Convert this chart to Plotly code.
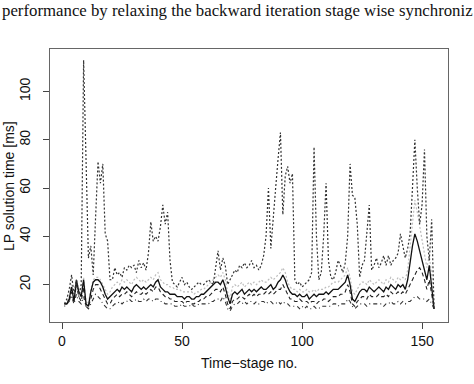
import plotly.graph_objects as go

stage = list(range(1, 156))

top_dotted = [12, 14, 18, 24, 16, 22, 15, 20, 113, 72,
              31, 36, 24, 48, 71, 62, 70, 41, 38, 22,
              22, 27, 24, 25, 23, 27, 26, 28, 27, 28,
              25, 30, 27, 29, 26, 33, 46, 38, 40, 38,
              44, 53, 45, 50, 30, 21, 20, 19, 21, 23,
              20, 21, 19, 18, 19, 20, 21, 20, 20, 21,
              22, 21, 20, 27, 34, 26, 31, 28, 20, 22,
              24, 26, 25, 28, 27, 29, 27, 28, 30, 27,
              28, 26, 28, 32, 40, 60, 35, 49, 60, 72,
              83, 49, 65, 69, 62, 66, 22, 20, 21, 19,
              20, 21, 22, 25, 77, 40, 22, 25, 40, 62,
              30, 23, 22, 25, 30, 28, 25, 29, 40, 70,
              57, 56, 45, 23, 28, 30, 40, 53, 26, 28,
              31, 27, 29, 32, 28, 32, 28, 30, 31, 33,
              41, 36, 31, 35, 41, 60, 80, 60, 45, 53,
              76, 40, 30, 47, 10]

grey_dotted = [12, 13, 15, 20, 14, 22, 18, 16, 23, 13,
               12, 18, 22, 23, 23, 22, 20, 18, 16, 17,
               19, 20, 21, 20, 22, 21, 22, 21, 20, 22,
               23, 22, 21, 22, 21, 22, 23, 22, 24, 25,
               22, 21, 20, 20, 19, 19, 18, 18, 18, 17,
               17, 17, 17, 17, 16, 17, 17, 18, 18, 19,
               20, 21, 22, 23, 24, 23, 25, 22, 17, 14,
               19, 20, 19, 20, 21, 19, 20, 21, 20, 21,
               20, 21, 22, 21, 21, 22, 23, 22, 23, 24,
               25, 27, 25, 21, 19, 18, 18, 17, 18, 17,
               17, 18, 17, 17, 18, 17, 18, 18, 18, 19,
               19, 20, 21, 21, 21, 22, 23, 24, 27, 23,
               17, 16, 18, 20, 21, 21, 20, 22, 21, 20,
               21, 22, 21, 20, 22, 21, 23, 22, 21, 23,
               22, 23, 22, 26, 36, 46, 55, 50, 44, 38,
               33, 27, 32, 24, 11]

solid = [12, 12, 14, 19, 13, 22, 17, 15, 22, 12,
         11, 17, 21, 22, 22, 21, 19, 16, 14, 15,
         16, 17, 18, 17, 19, 18, 19, 18, 17, 19,
         20, 19, 18, 19, 18, 19, 20, 19, 21, 22,
         19, 18, 17, 17, 16, 16, 16, 15, 15, 15,
         14, 15, 15, 14, 14, 15, 15, 16, 16, 17,
         18, 19, 20, 21, 21, 20, 22, 19, 15, 12,
         16, 17, 16, 17, 18, 16, 17, 18, 17, 18,
         17, 18, 19, 18, 18, 19, 20, 18, 19, 21,
         22, 24, 22, 19, 17, 16, 16, 15, 16, 15,
         15, 16, 14, 15, 16, 15, 16, 16, 16, 17,
         16, 17, 18, 18, 18, 19, 20, 21, 24, 20,
         14, 13, 15, 17, 18, 18, 17, 19, 18, 17,
         18, 19, 18, 17, 19, 18, 20, 19, 18, 20,
         19, 20, 18, 22, 30, 36, 41, 38, 34, 30,
         26, 22, 28, 20, 10]

dashed = [12, 12, 13, 17, 13, 20, 15, 13, 19, 11,
          11, 14, 18, 20, 20, 18, 16, 14, 12, 12,
          14, 15, 16, 15, 16, 16, 17, 16, 15, 16,
          17, 16, 16, 17, 16, 17, 18, 17, 19, 19,
          17, 16, 15, 15, 14, 14, 13, 13, 13, 13,
          12, 13, 13, 12, 12, 13, 13, 14, 14, 15,
          15, 16, 17, 18, 18, 17, 19, 16, 12, 10,
          13, 14, 14, 15, 15, 14, 15, 16, 15, 16,
          15, 16, 16, 16, 17, 16, 17, 16, 17, 18,
          18, 20, 18, 16, 14, 14, 13, 13, 14, 13,
          13, 13, 12, 13, 13, 12, 13, 13, 14, 14,
          13, 14, 15, 15, 15, 16, 16, 17, 20, 17,
          12, 11, 13, 14, 15, 15, 14, 16, 15, 15,
          15, 16, 15, 15, 16, 15, 17, 16, 16, 17,
          16, 17, 16, 18, 20, 22, 24, 26, 27, 25,
          22, 18, 22, 16, 10]

dashdot = [11, 12, 13, 15, 12, 16, 13, 12, 15, 11,
           10, 12, 14, 16, 15, 14, 12, 11, 10, 10,
           11, 12, 12, 13, 12, 13, 13, 14, 13, 13,
           14, 13, 13, 14, 13, 14, 14, 13, 14, 14,
           13, 13, 12, 12, 12, 12, 11, 11, 11, 12,
           11, 11, 11, 12, 11, 11, 12, 12, 12, 12,
           12, 13, 13, 14, 14, 13, 15, 13, 10, 9,
           11, 12, 12, 13, 12, 13, 12, 13, 13, 12,
           13, 12, 13, 13, 12, 13, 13, 12, 12, 13,
           12, 13, 12, 12, 11, 11, 11, 11, 10, 11,
           10, 11, 10, 10, 11, 10, 10, 11, 11, 11,
           11, 11, 12, 12, 11, 12, 12, 12, 14, 13,
           11, 10, 11, 12, 12, 12, 11, 12, 12, 12,
           12, 12, 12, 11, 12, 12, 13, 12, 12, 13,
           12, 13, 12, 13, 13, 14, 15, 15, 14, 14,
           14, 13, 14, 12, 10]

x_ticks = [0, 50, 100, 150]
y_ticks = [20, 40, 60, 80, 100]

# plot area in pixels: left 50, right 448, top 49, bottom 322
PW, PH, PT, PB, PL = 398, 273, 49, 322, 50


def py(p):
    return (PB - p) / PH


def px(p):
    return (p - PL) / PW


fig = go.Figure()
series = [
    (grey_dotted, dict(color="#bdbdbd", width=1.2, dash="2px,2px")),
    (dashdot, dict(color="#333333", width=1.1, dash="1px,3px,4px,3px")),
    (dashed, dict(color="#222222", width=1.1, dash="4px,3px")),
    (solid, dict(color="#111111", width=1.3)),
    (top_dotted, dict(color="#333333", width=1.2, dash="2px,2px")),
]
for ys, ln in series:
    fig.add_trace(go.Scatter(x=stage, y=ys, mode="lines", line=ln,
                             showlegend=False, hoverinfo="skip"))

axis_font = dict(family="Liberation Sans, Arial, sans-serif", size=14, color="#111")
fig.update_layout(
    width=474, height=384,
    margin=dict(l=50, r=26, t=49, b=62, autoexpand=False),
    paper_bgcolor="white", plot_bgcolor="white",
    font=axis_font,
    xaxis=dict(range=[-5, 160.8], tickvals=x_ticks, showgrid=False, zeroline=False,
               showline=True, mirror=True, linecolor="#666", linewidth=1,
               ticks="outside", ticklen=6, tickcolor="#444", tickfont=axis_font,
               automargin=False),
    yaxis=dict(range=[4.5, 117.6], tickvals=y_ticks, showgrid=False, zeroline=False,
               showline=True, mirror=True, linecolor="#666", linewidth=1,
               ticks="outside", ticklen=6, tickcolor="#444", tickfont=axis_font,
               tickangle=-90, ticklabelstandoff=7, automargin=False),
    annotations=[
        dict(text="performance by relaxing the backward iteration stage wise synchroniz",
             xref="paper", yref="paper", x=px(0), y=py(10),
             xanchor="left", yanchor="middle", showarrow=False,
             font=dict(family="Liberation Serif, serif", size=16.8, color="#111")),
        dict(text="Time−stage no.", xref="paper", yref="paper", x=px(249), y=py(363),
             xanchor="center", yanchor="middle", showarrow=False, font=axis_font),
        dict(text="LP solution time [ms]", xref="paper", yref="paper", x=px(9), y=py(186),
             xanchor="center", yanchor="middle", showarrow=False, textangle=-90,
             font=axis_font),
    ],
)
fig.write_html("out.html", config={"displayModeBar": False},
               post_script="document.body.style.margin='0px';")
